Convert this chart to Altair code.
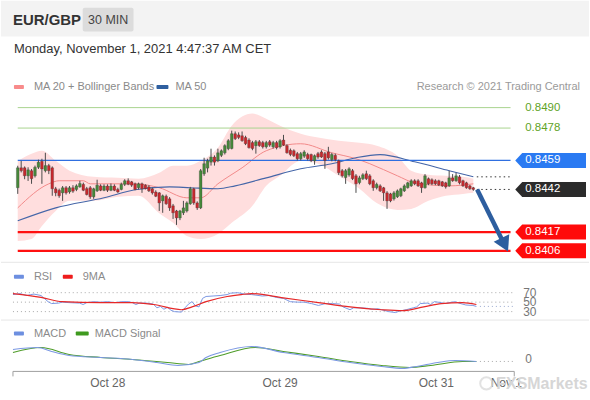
import altair as alt
import pandas as pd

FONT = "Liberation Sans"

# ---------------- price candles (30 min) ----------------
opens = [0.84430,0.84547,0.84547,0.84500,0.84530,0.84500,0.84550,0.84585,0.84530,0.84560,
         0.84547,0.84424,0.84415,0.84400,0.84430,0.84405,0.84430,0.84420,0.84435,0.84450,
         0.84425,0.84430,0.84377,0.84412,0.84441,0.84415,0.84440,0.84415,0.84440,0.84420,
         0.84420,0.84450,0.84471,0.84465,0.84453,0.84430,0.84453,0.84445,0.84435,0.84424,
         0.84405,0.84400,0.84353,0.84380,0.84365,0.84324,0.84294,0.84253,0.84283,0.84294,
         0.84336,0.84424,0.84341,0.84312,0.84512,0.84545,0.84580,0.84610,0.84588,0.84620,
         0.84635,0.84659,0.84660,0.84747,0.84740,0.84735,0.84725,0.84710,0.84695,0.84677,
         0.84700,0.84695,0.84670,0.84700,0.84670,0.84695,0.84670,0.84710,0.84677,0.84650,
         0.84647,0.84630,0.84600,0.84615,0.84625,0.84625,0.84588,0.84630,0.84640,0.84630,
         0.84640,0.84595,0.84620,0.84588,0.84530,0.84490,0.84505,0.84530,0.84500,0.84460,
         0.84483,0.84512,0.84500,0.84471,0.84430,0.84441,0.84430,0.84400,0.84394,0.84365,
         0.84377,0.84383,0.84412,0.84430,0.84441,0.84471,0.84471,0.84459,0.84430,0.84483,
         0.84477,0.84471,0.84471,0.84465,0.84459,0.84441,0.84488,0.84471,0.84494,0.84471,
         0.84459,0.84441,0.84430]
highs = [0.84559,0.84588,0.84555,0.84550,0.84540,0.84560,0.84595,0.84600,0.84635,0.84570,
         0.84555,0.84435,0.84425,0.84440,0.84440,0.84440,0.84445,0.84450,0.84471,0.84460,
         0.84435,0.84440,0.84430,0.84477,0.84450,0.84450,0.84450,0.84455,0.84450,0.84430,
         0.84460,0.84480,0.84485,0.84470,0.84460,0.84460,0.84460,0.84450,0.84445,0.84430,
         0.84415,0.84405,0.84390,0.84390,0.84375,0.84335,0.84300,0.84300,0.84353,0.84350,
         0.84435,0.84430,0.84350,0.84540,0.84606,0.84600,0.84659,0.84620,0.84659,0.84655,
         0.84685,0.84715,0.84765,0.84760,0.84755,0.84760,0.84735,0.84720,0.84705,0.84710,
         0.84710,0.84705,0.84705,0.84710,0.84705,0.84705,0.84715,0.84740,0.84685,0.84660,
         0.84655,0.84640,0.84640,0.84650,0.84635,0.84630,0.84625,0.84640,0.84650,0.84640,
         0.84670,0.84635,0.84630,0.84595,0.84540,0.84540,0.84550,0.84540,0.84510,0.84500,
         0.84515,0.84530,0.84510,0.84480,0.84460,0.84450,0.84435,0.84410,0.84400,0.84410,
         0.84420,0.84430,0.84450,0.84465,0.84480,0.84480,0.84480,0.84465,0.84510,0.84490,
         0.84485,0.84480,0.84477,0.84470,0.84465,0.84530,0.84510,0.84518,0.84505,0.84477,
         0.84465,0.84447,0.84435]
lows = [0.84394,0.84520,0.84480,0.84470,0.84453,0.84490,0.84540,0.84453,0.84520,0.84510,
        0.84383,0.84380,0.84371,0.84353,0.84390,0.84395,0.84400,0.84410,0.84430,0.84410,
        0.84385,0.84365,0.84365,0.84405,0.84410,0.84410,0.84405,0.84410,0.84410,0.84400,
        0.84415,0.84440,0.84445,0.84435,0.84415,0.84420,0.84400,0.84420,0.84405,0.84390,
        0.84375,0.84294,0.84283,0.84330,0.84294,0.84247,0.84212,0.84240,0.84270,0.84285,
        0.84330,0.84330,0.84300,0.84305,0.84500,0.84520,0.84560,0.84560,0.84580,0.84610,
        0.84625,0.84650,0.84655,0.84710,0.84715,0.84700,0.84680,0.84660,0.84650,0.84630,
        0.84670,0.84660,0.84660,0.84670,0.84660,0.84655,0.84660,0.84675,0.84630,0.84615,
        0.84610,0.84590,0.84590,0.84605,0.84590,0.84580,0.84565,0.84600,0.84605,0.84541,
        0.84595,0.84585,0.84585,0.84505,0.84490,0.84453,0.84495,0.84475,0.84400,0.84450,
        0.84475,0.84475,0.84445,0.84412,0.84420,0.84405,0.84353,0.84306,0.84345,0.84355,
        0.84370,0.84375,0.84405,0.84425,0.84435,0.84445,0.84435,0.84400,0.84425,0.84445,
        0.84445,0.84445,0.84440,0.84435,0.84425,0.84435,0.84465,0.84465,0.84450,0.84435,
        0.84424,0.84418,0.84412]
closes = [0.84547,0.84530,0.84500,0.84535,0.84483,0.84550,0.84580,0.84540,0.84560,0.84530,
          0.84424,0.84400,0.84383,0.84430,0.84400,0.84430,0.84410,0.84441,0.84455,0.84415,
          0.84390,0.84377,0.84424,0.84445,0.84415,0.84440,0.84415,0.84440,0.84415,0.84405,
          0.84450,0.84471,0.84450,0.84445,0.84420,0.84453,0.84424,0.84425,0.84412,0.84400,
          0.84380,0.84341,0.84383,0.84336,0.84312,0.84283,0.84253,0.84294,0.84312,0.84341,
          0.84424,0.84341,0.84312,0.84530,0.84571,0.84588,0.84610,0.84580,0.84635,0.84647,
          0.84677,0.84706,0.84747,0.84718,0.84725,0.84706,0.84688,0.84665,0.84660,0.84700,
          0.84677,0.84670,0.84695,0.84680,0.84695,0.84665,0.84706,0.84680,0.84635,0.84625,
          0.84618,0.84600,0.84630,0.84640,0.84600,0.84590,0.84618,0.84610,0.84610,0.84590,
          0.84605,0.84625,0.84595,0.84518,0.84500,0.84530,0.84541,0.84483,0.84453,0.84488,
          0.84506,0.84483,0.84453,0.84430,0.84450,0.84412,0.84400,0.84353,0.84353,0.84400,
          0.84412,0.84424,0.84441,0.84459,0.84471,0.84453,0.84441,0.84430,0.84500,0.84453,
          0.84453,0.84453,0.84447,0.84441,0.84435,0.84488,0.84471,0.84500,0.84459,0.84441,
          0.84430,0.84424,0.84420]

# ---------------- overlays (sampled) ----------------
band_idx = [0, 4, 7, 11, 15, 22, 29, 35, 41, 45, 49, 53, 58, 62, 68, 72, 76, 82, 87, 93,
            99, 104, 110, 114, 119, 124, 129, 132]
band_upper = [0.84588, 0.84630, 0.84647, 0.84588, 0.84530, 0.84494, 0.84488, 0.84483, 0.84518, 0.84559,
              0.84559, 0.84588, 0.84665, 0.84794, 0.84865, 0.84835, 0.84794, 0.84747, 0.84724, 0.84706,
              0.84694, 0.84677, 0.84618, 0.84530, 0.84506, 0.84500, 0.84494, 0.84483]
band_lower = [0.84118, 0.84130, 0.84206, 0.84294, 0.84353, 0.84353, 0.84377, 0.84383, 0.84280, 0.84224,
              0.84147, 0.84130, 0.84159, 0.84224, 0.84324, 0.84441, 0.84500, 0.84588, 0.84571, 0.84500,
              0.84424, 0.84340, 0.84300, 0.84306, 0.84353, 0.84383, 0.84394, 0.84400]
ma20_idx = [0, 9, 12, 19, 21, 34, 41, 49, 53, 58, 65, 72, 82, 91, 98, 102, 110, 115, 125, 132]
ma20 = [0.84312, 0.84453, 0.84471, 0.84471, 0.84453, 0.84453, 0.84430, 0.84371, 0.84371, 0.84453,
        0.84547, 0.84647, 0.84688, 0.84635, 0.84600, 0.84571, 0.84500, 0.84459, 0.84441, 0.84453]
ma50_idx = [0, 11, 25, 34, 44, 50, 58, 63, 72, 82, 91, 98, 105, 115, 125, 132]
ma50 = [0.84236, 0.84312, 0.84371, 0.84418, 0.84435, 0.84430, 0.84424, 0.84441, 0.84488, 0.84541,
        0.84571, 0.84606, 0.84624, 0.84582, 0.84530, 0.84494]

# ---------------- key levels ----------------
resistances = [0.8490, 0.8478]
pivot = [0.8459]
last_price = [0.8442]
supports = [0.8417, 0.8406]

# ---------------- arrow (forecast) ----------------
arrow_idx = [133.1, 140.5]
arrow_price = [0.8442, 0.84118]
arrow_head_idx = [141.1]
arrow_head_price = [0.84096]

# ---------------- RSI ----------------
rsi_idx = [0, 2, 4, 5, 6, 8, 10, 11, 13, 14, 16, 19, 20, 21, 23, 25, 27, 29, 31, 33, 34, 35, 36, 38,
           40, 41, 42, 43, 44, 45, 46, 48, 49, 50, 51, 52, 53, 54, 55, 57, 59, 61, 62, 64, 66, 68,
           71, 73, 75, 77, 79, 81, 83, 85, 87, 89, 91, 93, 94, 96, 97, 99, 101, 102, 104, 105, 107,
           109, 110, 112, 114, 115, 116, 118, 119, 120, 122, 123, 125, 126, 127, 129, 131, 132]
rsi = [66, 68, 64, 66, 67, 64, 51, 47, 48, 50, 49, 48, 45, 49, 51, 50, 51, 49, 51, 51, 49, 45, 48, 48,
       46, 38, 41, 35, 39, 33, 30, 29, 38, 46, 51, 42, 40, 58, 62, 63, 64, 66, 69, 70, 67, 66,
       63, 64, 60, 58, 51, 50, 50, 47, 43, 47, 47, 46, 40, 34, 38, 38, 37, 35, 36, 34, 30,
       28, 31, 34, 38, 40, 47, 48, 45, 51, 49, 47, 50, 51, 48, 44, 43, 41]
rsi_ma_idx = [0, 8, 14, 25, 34, 40, 48, 51, 55, 61, 65, 68, 77, 87, 96, 105, 111, 117, 122, 128, 132]
rsi_ma = [68, 60, 51, 49, 49, 45, 34, 40, 51, 62, 66, 68, 59, 49, 40, 34, 32, 40, 47, 49, 45]
rsi_levels = [70, 50, 30]

# ---------------- MACD ----------------
macd_idx = [0, 7, 11, 16, 25, 34, 41, 47, 53, 55, 59, 68, 77, 87, 96, 105, 111, 115, 121, 126, 132]
macd = [0.00030, 0.00036, 0.00024, 0.00012, 0.00006, 0.0, -0.00009, -0.00018, -0.00009, 0.00006,
        0.00021, 0.00039, 0.00021, 0.00006, -0.00009, -0.00021, -0.00027, -0.00021, -0.00009, -0.00003,
        -0.00006]
sig_idx = [0, 8, 16, 25, 34, 44, 50, 53, 59, 69, 77, 87, 96, 105, 113, 119, 128, 132]
sig = [0.00021, 0.00036, 0.00015, 0.00006, 0.0, -0.00009, -0.00015, -0.00006, 0.00012, 0.00036,
       0.00024, 0.00009, -0.00006, -0.00018, -0.00024, -0.00018, -0.00006, -0.00006]

# ---------------- x axis ----------------
tick_idx = [27.0, 76.1, 120.6, 140.5]
tick_labels = ["Oct 28", "Oct 29", "Oct 31", "Nov 1"]

X_DOM = [-3.406, 164.07]
LINE_END = 142.78
LAST = len(closes) - 1

xs = alt.Scale(domain=X_DOM, nice=False, zero=False)
ysA = alt.Scale(domain=[0.839957, 0.855272], nice=False, zero=False)
ysB = alt.Scale(domain=[13.16, 135.26], nice=False, zero=False)
ysC = alt.Scale(domain=[-0.0012, 0.0012], nice=False, zero=False)

dummy = pd.DataFrame({"a": [0]})


def X(f):
    return alt.X(f, type="quantitative", scale=xs, axis=None)


def Y(f, s):
    return alt.Y(f, type="quantitative", scale=s, axis=None)


def txt(s, x, y, size=11, color="#8a8a8a", align="left", weight="normal"):
    return alt.Chart(dummy).mark_text(text=s, align=align, baseline="middle", fontSize=size,
                                      font=FONT, color=color, fontWeight=weight).encode(
        x=alt.value(x), y=alt.value(y))


def box(x0, x1, y0, y1, color, r=0):
    return alt.Chart(dummy).mark_rect(color=color, cornerRadius=r).encode(
        x=alt.value(x0), x2=alt.value(x1), y=alt.value(y0), y2=alt.value(y1))


def sep():
    return alt.Chart(dummy).mark_rule(color="#e6e6e6", strokeWidth=1).encode(
        x=alt.value(0), x2=alt.value(590), y=alt.value(0.5))


# ================= PANEL A : price =================
cdf = pd.DataFrame({"i": list(range(len(closes))), "o": opens, "h": highs, "l": lows, "c": closes})
cdf["dir"] = ["up" if c >= o else "down" for o, c in zip(opens, closes)]
bdf = pd.DataFrame({"i": band_idx, "u": band_upper, "lo": band_lower})
m20 = pd.DataFrame({"i": ma20_idx, "v": ma20})
m50 = pd.DataFrame({"i": ma50_idx, "v": ma50})


def levels(vals):
    return pd.DataFrame({"x0": [0] * len(vals), "x1": [LINE_END] * len(vals), "p": vals,
                         "t": [f"{v:.4f}" for v in vals]})


header = alt.layer(
    box(0, 590, 0, 36, "#f3f3f3"),
    txt("EUR/GBP", 12, 19, size=15, color="#333333", weight="bold"),
    box(82, 133, 7, 31, "#dcdcdc", 2),
    txt("30 MIN", 107.5, 19.5, size=12.5, color="#444444", align="center"),
    txt("Monday, November 1, 2021 4:47:37 AM CET", 13, 48, size=13, color="#333333"),
    box(13, 23, 84.5, 88.5, "#f88b8b", 1),
    txt("MA 20 + Bollinger Bands", 33, 86.5),
    box(156, 168, 84.5, 88.5, "#2f5f9f", 1),
    txt("MA 50", 175, 86.5),
    txt("Research © 2021 Trading Central", 581, 86.5, color="#9a9a9a", align="right"),
)

band = alt.Chart(bdf).mark_area(color="#ffdede", interpolate="monotone").encode(
    x=X("i"), y=Y("u", ysA), y2="lo")
l20 = alt.Chart(m20).mark_line(color="#f28a8a", strokeWidth=1, interpolate="monotone").encode(
    x=X("i"), y=Y("v", ysA))
l50 = alt.Chart(m50).mark_line(color="#4566a8", strokeWidth=1.1, interpolate="monotone").encode(
    x=X("i"), y=Y("v", ysA))

res_lines = alt.Chart(levels(resistances)).mark_rule(color="#a9d48f", strokeWidth=1).encode(
    x=X("x0"), x2="x1", y=Y("p", ysA))
piv_line = alt.Chart(levels(pivot)).mark_rule(color="#2f6fe0", strokeWidth=1.3).encode(
    x=X("x0"), x2="x1", y=Y("p", ysA))
sup_lines = alt.Chart(levels(supports)).mark_rule(color="#ff1010", strokeWidth=2.4).encode(
    x=X("x0"), x2="x1", y=Y("p", ysA))

col = alt.Color("dir:N", scale=alt.Scale(domain=["up", "down"], range=["#46883a", "#c8282d"]), legend=None)
wicks = alt.Chart(cdf).mark_rule(color="#4a4a4a", strokeWidth=1).encode(
    x=X("i"), y=Y("l", ysA), y2="h")
bodies = alt.Chart(cdf).mark_bar(size=2.7, stroke="#3a3a3a", strokeWidth=0.3).encode(
    x=X("i"), y=Y("o", ysA), y2="c", color=col)

ext = pd.DataFrame({"x0": [LAST + 1, LAST + 1], "x1": [LINE_END, LINE_END],
                    "p": [last_price[0], ma50[-1]]})
dots = alt.Chart(ext).mark_rule(color="#333333", strokeWidth=1, strokeDash=[1.5, 3]).encode(
    x=X("x0"), x2="x1", y=Y("p", ysA))

adf = pd.DataFrame({"i": arrow_idx, "p": arrow_price})
arrow = alt.Chart(adf).mark_line(color="#2d5e9f", strokeWidth=4.5, strokeCap="butt").encode(
    x=X("i"), y=Y("p", ysA))
ahead = alt.Chart(pd.DataFrame({"i": arrow_head_idx, "p": arrow_head_price})).mark_point(
    shape="triangle-up", angle=154, size=300, filled=True, opacity=1, color="#2d5e9f").encode(
    x=X("i"), y=Y("p", ysA))

TAG = "M-1,0L-0.803,-0.211L1,-0.211L1,0.211L-0.803,0.211Z"


def tag(vals, fill):
    d = levels(vals)
    shape = alt.Chart(d).mark_point(shape=TAG, size=5041, filled=True, opacity=1, color=fill,
                                    strokeWidth=0).encode(x=alt.value(551.5), y=Y("p", ysA))
    label = alt.Chart(d).mark_text(align="left", baseline="middle", fontSize=11.5, font=FONT,
                                   color="white").encode(x=alt.value(526), y=Y("p", ysA), text="t:N")
    return [shape, label]


res_text = alt.Chart(levels(resistances)).mark_text(align="left", baseline="middle", fontSize=11.5,
                                                    font=FONT, color="#5fa327").encode(
    x=alt.value(526), y=Y("p", ysA), text="t:N")

panelA = alt.layer(
    header, band, l20, l50, res_lines, piv_line, sup_lines, wicks, bodies, dots, arrow, ahead,
    res_text, *tag(pivot, "#2a7af2"), *tag(last_price, "#2b2b2b"), *tag(supports, "#ff0a0a"),
).properties(width=590, height=262)

# ================= PANEL B : RSI =================
rdf = pd.DataFrame({"i": rsi_idx, "v": rsi})
rmdf = pd.DataFrame({"i": rsi_ma_idx, "v": rsi_ma})
lvdf = pd.DataFrame({"x0": [0] * 3, "x1": [LINE_END] * 3, "v": rsi_levels,
                     "t": [str(v) for v in rsi_levels]})
rext = pd.DataFrame({"x0": [LAST + 1], "x1": [LINE_END], "v": [rsi[-1]]})

panelB = alt.layer(
    sep(),
    box(13, 23, 13, 17, "#6d8fe0", 1),
    txt("RSI", 33, 15),
    box(62, 72, 13, 17, "#ee1c1c", 1),
    txt("9MA", 82, 15),
    alt.Chart(lvdf).mark_rule(color="#a8a8a8", strokeWidth=1, strokeDash=[1, 3]).encode(
        x=X("x0"), x2="x1", y=Y("v", ysB)),
    alt.Chart(rext).mark_rule(color="#9aaad0", strokeWidth=1, strokeDash=[1, 3]).encode(
        x=X("x0"), x2="x1", y=Y("v", ysB)),
    alt.Chart(rdf).mark_line(color="#7b98e3", strokeWidth=1).encode(x=X("i"), y=Y("v", ysB)),
    alt.Chart(rmdf).mark_line(color="#e62828", strokeWidth=1.2, interpolate="monotone").encode(
        x=X("i"), y=Y("v", ysB)),
    alt.Chart(lvdf).mark_text(align="left", baseline="middle", fontSize=12, font=FONT,
                              color="#777777").encode(x=alt.value(524), y=Y("v", ysB), text="t:N"),
).properties(width=590, height=58)

# ================= PANEL C : MACD =================
mdf = pd.DataFrame({"i": macd_idx, "v": macd})
sdf = pd.DataFrame({"i": sig_idx, "v": sig})
mext = pd.DataFrame({"x0": [LAST + 1], "x1": [LINE_END], "v": [macd[-1]]})
zero = pd.DataFrame({"v": [0.0], "t": ["0"]})
axis_df = pd.DataFrame({"x0": [0], "x1": [LINE_END]})
end_ticks = pd.DataFrame({"i": [0, LINE_END]})
ticks = pd.DataFrame({"i": tick_idx, "t": tick_labels})

panelC = alt.layer(
    sep(),
    box(13, 23, 12, 16, "#6d8fe0", 1),
    txt("MACD", 33, 14),
    box(75, 88, 12, 16, "#3f9a1f", 1),
    txt("MACD Signal", 94, 14),
    alt.Chart(mext).mark_rule(color="#a8a8a8", strokeWidth=1, strokeDash=[1, 3]).encode(
        x=X("x0"), x2="x1", y=Y("v", ysC)),
    alt.Chart(sdf).mark_line(color="#4f9d2a", strokeWidth=1.1, interpolate="monotone").encode(
        x=X("i"), y=Y("v", ysC)),
    alt.Chart(mdf).mark_line(color="#7b98e3", strokeWidth=1.1, interpolate="monotone").encode(
        x=X("i"), y=Y("v", ysC)),
    alt.Chart(zero).mark_text(align="left", baseline="middle", fontSize=12, font=FONT,
                              color="#777777").encode(x=alt.value(526), y=Y("v", ysC), text="t:N"),
    alt.Chart(axis_df).mark_rule(color="#a0a0a0", strokeWidth=1).encode(
        x=X("x0"), x2="x1", y=alt.value(52)),
    alt.Chart(end_ticks).mark_rule(color="#a0a0a0", strokeWidth=1).encode(
        x=X("i"), y=alt.value(52), y2=alt.value(57)),
    alt.Chart(ticks).mark_text(align="center", baseline="middle", fontSize=12, font=FONT,
                               color="#666666").encode(x=X("i"), y=alt.value(64), text="t:N"),
    txt("FXSMarkets", 497, 65, size=16, color="#d6d6d6", weight="bold"),
    alt.Chart(dummy).mark_point(shape="circle", size=150, color="#d6d6d6", strokeWidth=2).encode(
        x=alt.value(487), y=alt.value(64)),
).properties(width=590, height=80)

chart = alt.vconcat(panelA, panelB, panelC, spacing=0, bounds="flush").properties(
    padding=0, background="white"
).configure_view(stroke=None)

chart.save("out.html", embed_options={"renderer": "svg", "actions": False})
